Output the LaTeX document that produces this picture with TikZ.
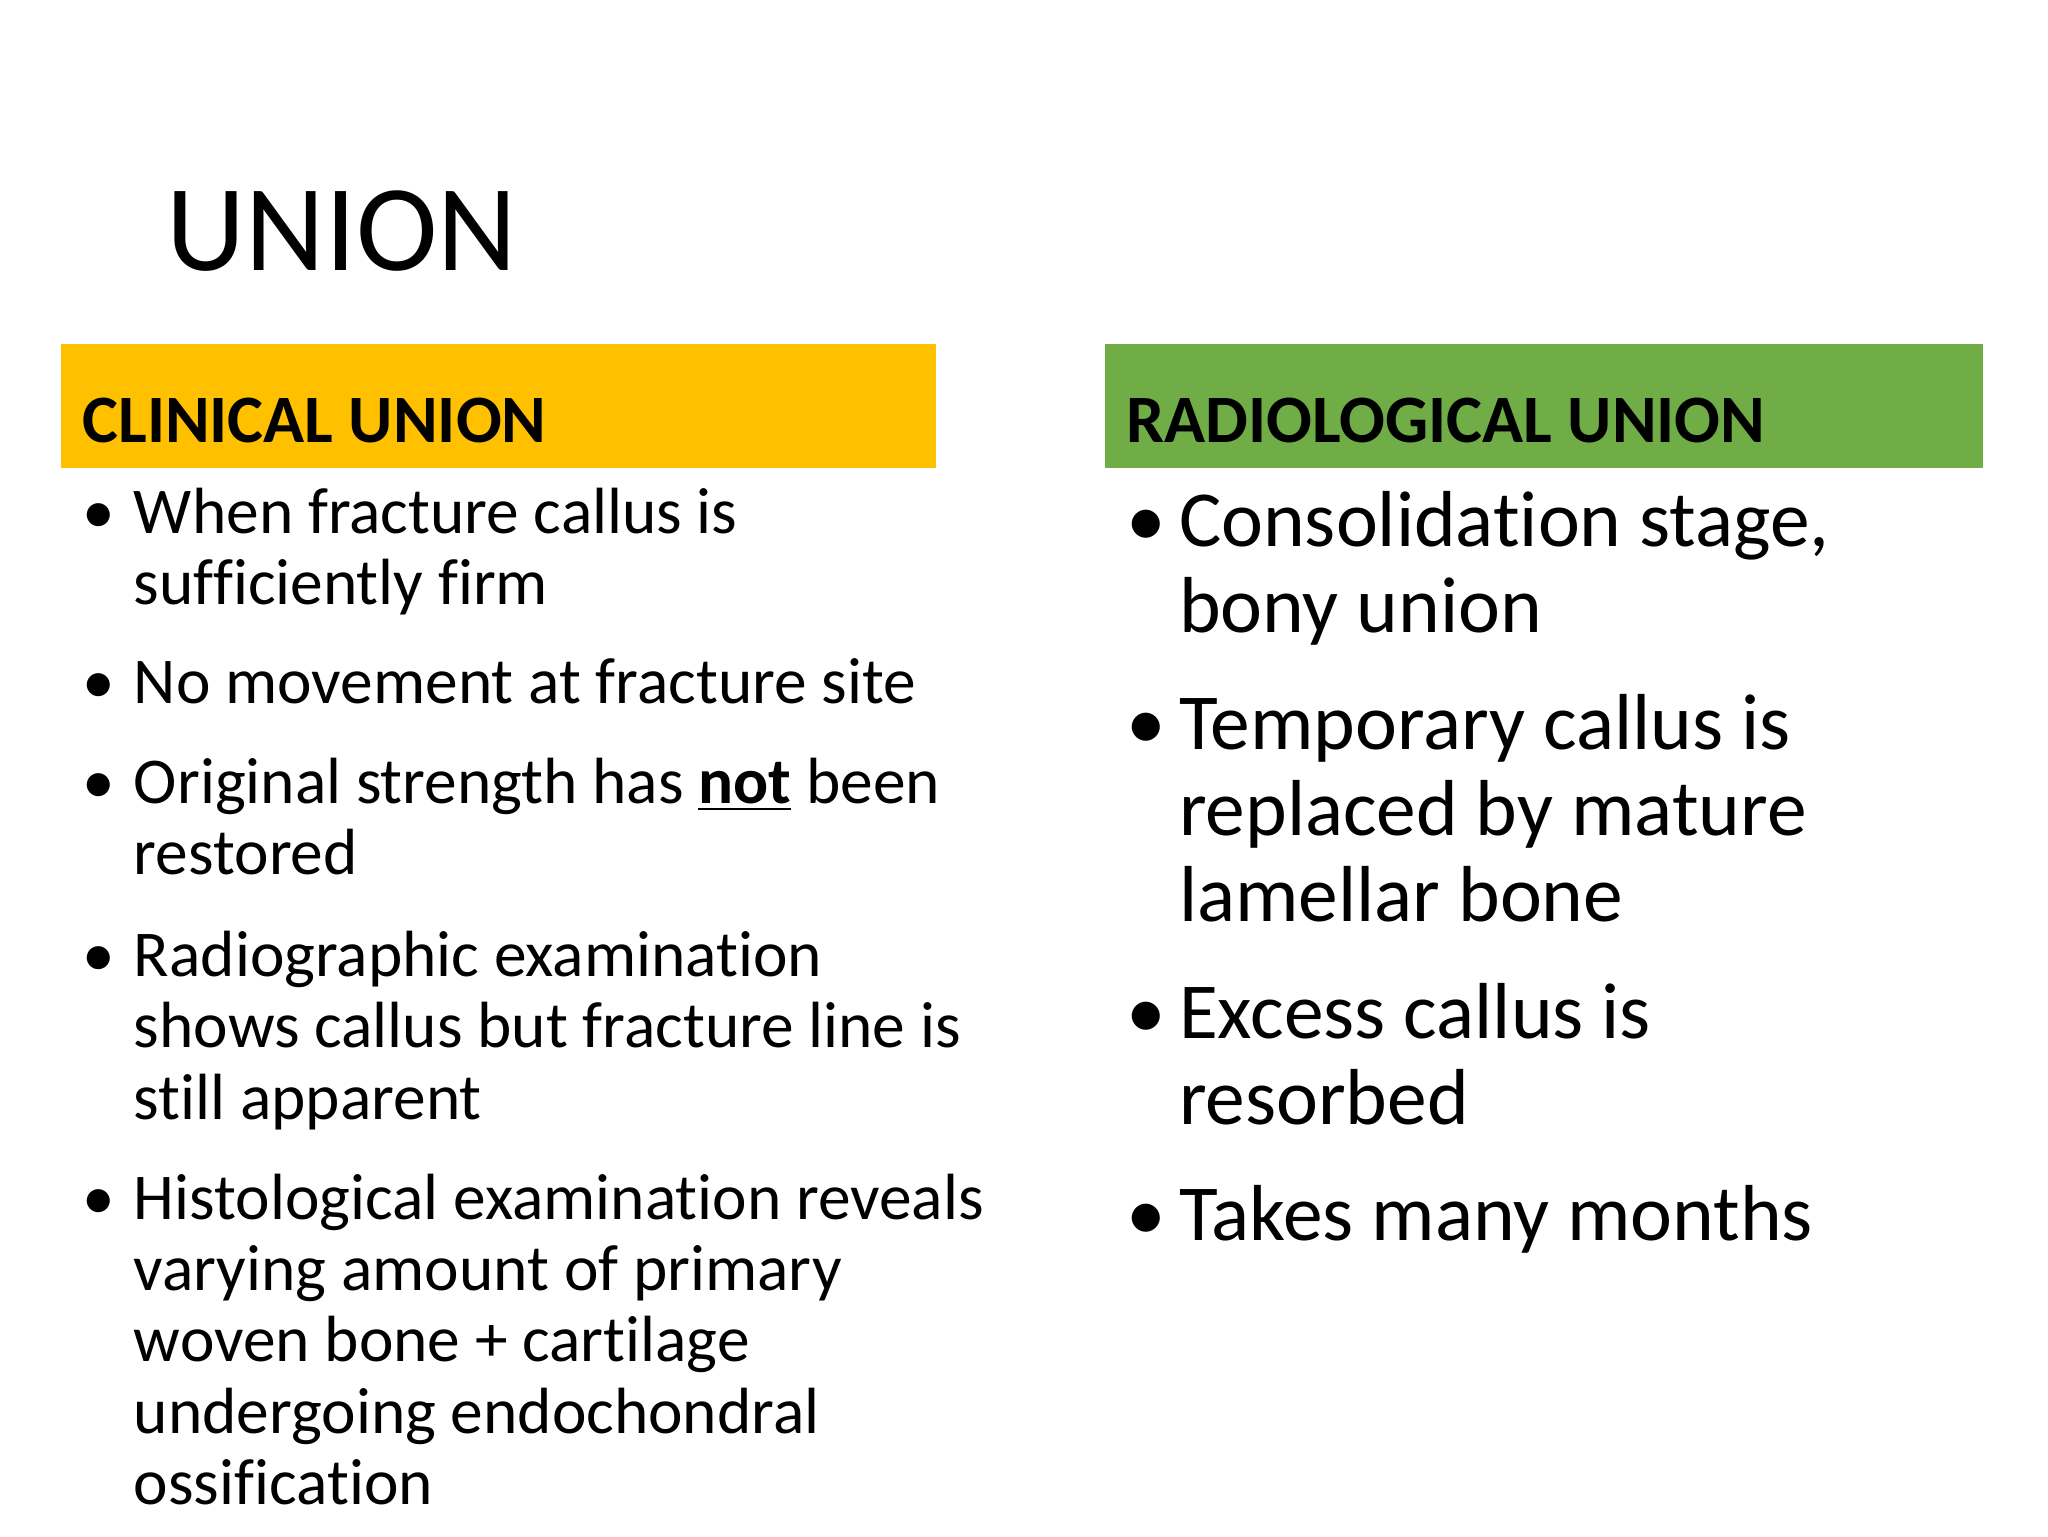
\documentclass[tikz,border=0pt]{standalone}
\usepackage{fontspec}
\setmainfont[Ligatures={NoCommon,NoRare}]{Carlito}
\definecolor{yel}{HTML}{FFC000}
\definecolor{grn}{HTML}{70AD47}
\begin{document}
\begin{tikzpicture}[x=0.013196cm,y=-0.013196cm,
  lt/.style={anchor=base west,inner sep=0,font=\fontsize{18.6}{18.6}\selectfont},
  rt/.style={anchor=base west,inner sep=0,font=\fontsize{22.6}{22.6}\selectfont},
  hd/.style={anchor=base west,inner sep=0,font=\fontsize{19.3}{19.3}\selectfont\bfseries}]
\useasboundingbox (0,0) rectangle (1552,1164);
\fill[white] (0,0) rectangle (1552,1164);
\node[anchor=base west,inner sep=0,font=\fontsize{35}{35}\selectfont] (title) at (126,205) {UNION};
\fill[yel] (46,261) rectangle (709,355);
\fill[grn] (837,261) rectangle (1503,355);
\node[hd] (h1) at (62,335) {CLINICAL UNION};
\node[hd] (h2) at (853,335) {RADIOLOGICAL UNION};
% left
\foreach \y in {404,533,609,740,924}{\node[lt] at (62,\y) {•};}
\foreach \t/\y [count=\i] in {
 When fracture callus is/404, sufficiently firm/458,
 No movement at fracture site/533,
 Original strength has \underline{\textbf{not}} been/609, restored/663,
 Radiographic examination/740, shows callus but fracture line is/794, still apparent/848,
 Histological examination reveals/924, varying amount of primary/978, woven bone + cartilage/1032,
 undergoing endochondral/1086, ossification/1140}
 {\node[lt] (l\i) at (101,\y) {\t};}
% right
\foreach \y in {414,568,787,940}{\node[rt] at (853,\y) {•};}
\foreach \t/\y [count=\i] in {
 {Consolidation stage,}/414, bony union/479,
 Temporary callus is/568, replaced by mature/633, lamellar bone/698,
 Excess callus is/787, resorbed/852,
 Takes many months/940}
 {\node[rt] (r\i) at (893,\y) {\t};}
\end{tikzpicture}
\end{document}
